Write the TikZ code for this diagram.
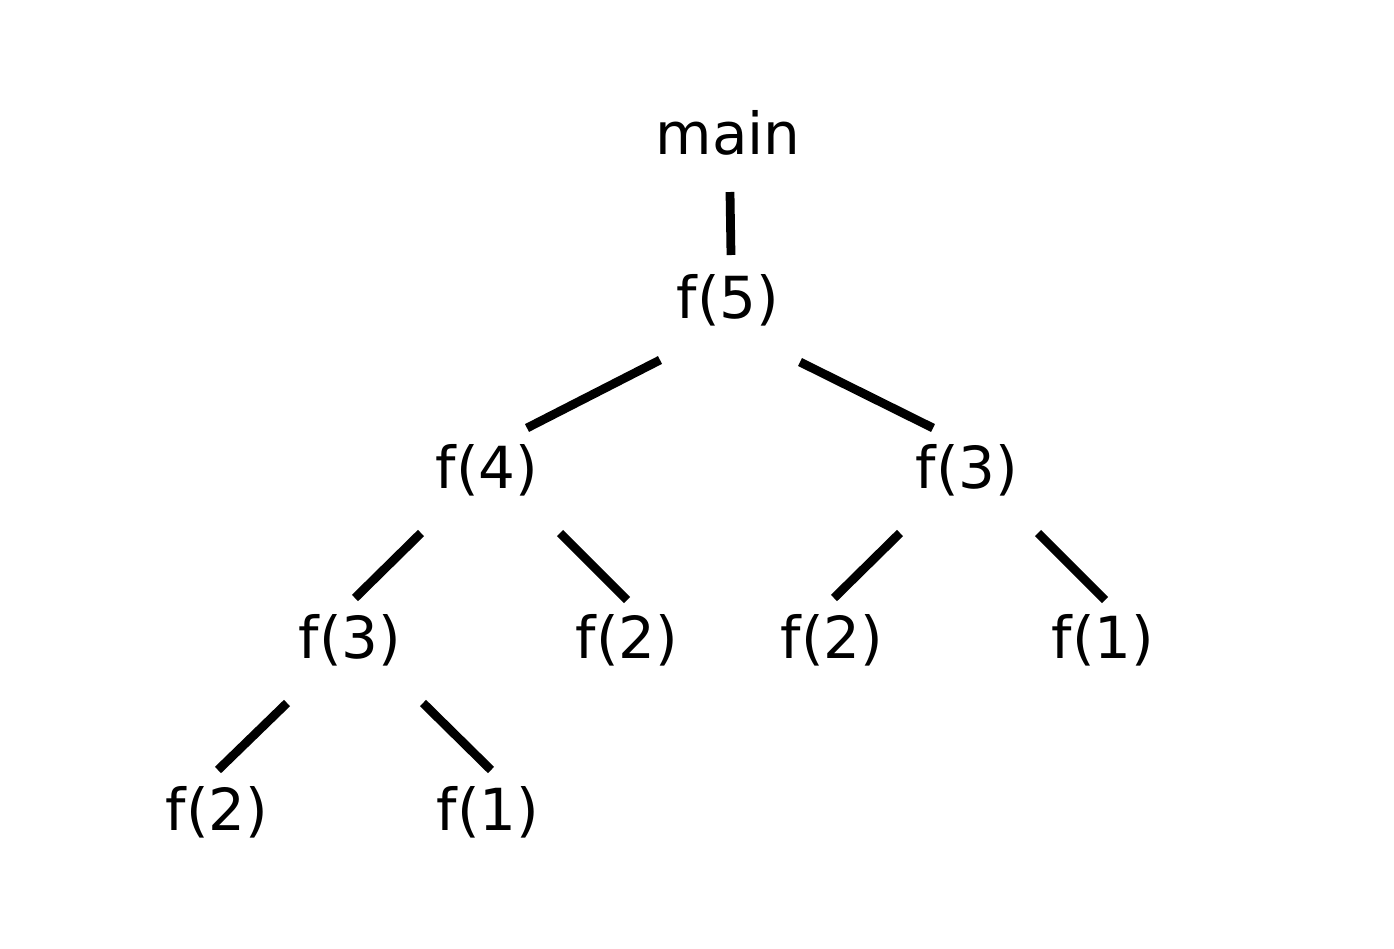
\documentclass[tikz,border=0pt]{standalone}
\usepackage{fontspec}
\setmainfont{DejaVu Sans}
\begin{document}
\begin{tikzpicture}[x=0.02cm,y=-0.02cm,
  lbl/.style={inner sep=0pt,font=\fontsize{33}{40}\selectfont},
  edge/.style={line width=5pt}]
\useasboundingbox (0,0) rectangle (1394,948);
\node[lbl] (main) at (728,133) {main};
\node[lbl] (f5) at (728,300) {f(5)};
\node[lbl] (f4) at (487,470) {f(4)};
\node[lbl] (f3) at (967,470) {f(3)};
\node[lbl] (f3b) at (350,640) {f(3)};
\node[lbl] (f2a) at (627,640) {f(2)};
\node[lbl] (f2b) at (832,640) {f(2)};
\node[lbl] (f1a) at (1103,640) {f(1)};
\node[lbl] (f2c) at (217,812) {f(2)};
\node[lbl] (f1b) at (488,812) {f(1)};
\draw[edge] ([shift={(2,59)}]main.center) -- ([shift={(3,-45)}]f5.center);
\draw[edge] ([shift={(-68,60)}]f5.center) -- ([shift={(40,-42)}]f4.center);
\draw[edge] ([shift={(72,62)}]f5.center) -- ([shift={(-34,-42)}]f3.center);
\draw[edge] ([shift={(-66,63)}]f4.center) -- ([shift={(5,-42)}]f3b.center);
\draw[edge] ([shift={(73,63)}]f4.center) -- ([shift={(0,-40)}]f2a.center);
\draw[edge] ([shift={(-67,63)}]f3.center) -- ([shift={(2,-42)}]f2b.center);
\draw[edge] ([shift={(71,63)}]f3.center) -- ([shift={(2,-40)}]f1a.center);
\draw[edge] ([shift={(-63,63)}]f3b.center) -- ([shift={(1,-42)}]f2c.center);
\draw[edge] ([shift={(73,63)}]f3b.center) -- ([shift={(3,-42)}]f1b.center);
\end{tikzpicture}
\end{document}
